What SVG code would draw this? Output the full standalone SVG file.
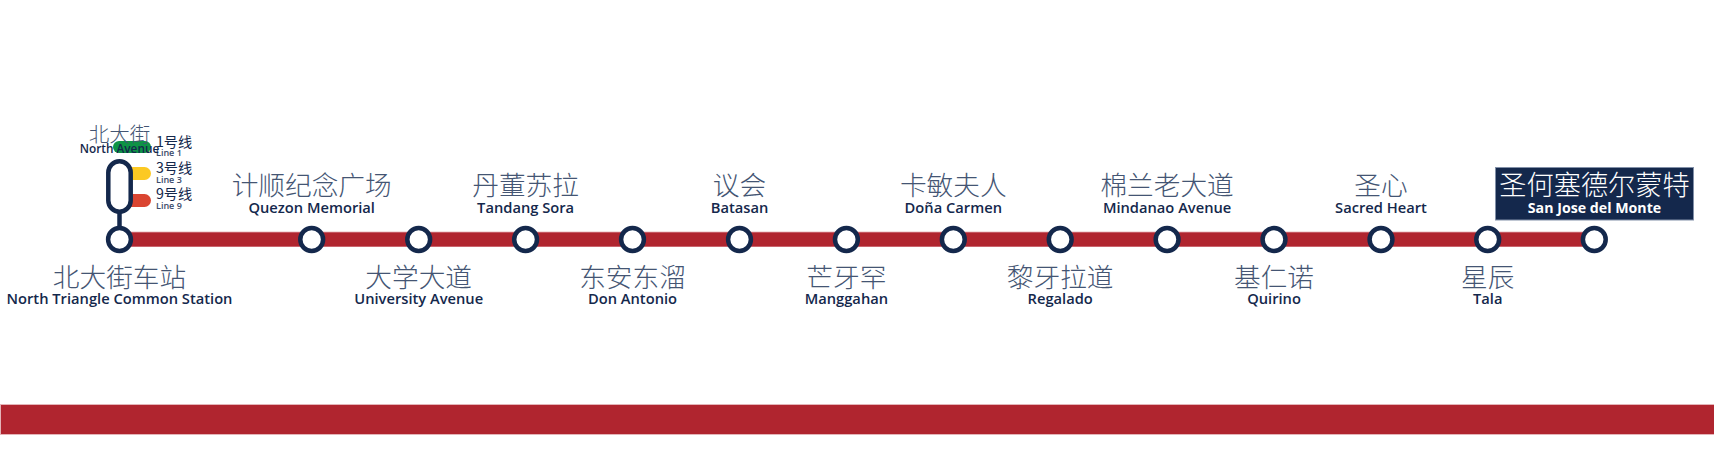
<svg xmlns="http://www.w3.org/2000/svg" width="1714" height="466" viewBox="0 0 1714 466">
<style>
text{text-anchor:middle}
.zh{font-family:"Noto Sans CJK SC","Noto Sans CJK TC",sans-serif;font-size:26.7px;font-weight:300;fill:#445573}
.en{font-family:"Open Sans","Noto Sans",sans-serif;font-size:14.7px;font-weight:600;fill:#14284c}
.st{fill:#fff;stroke:#14284c;stroke-width:4.500}
.ln{font-family:"Noto Sans CJK SC",sans-serif;font-size:14.200px;font-weight:400;fill:#14284c;text-anchor:start}
.lne{font-family:"Open Sans",sans-serif;font-size:9px;font-weight:600;fill:#3a4a6a;text-anchor:start}
.pill{stroke:none}
</style>
<rect x="0.5" y="404.5" width="1714" height="30" fill="#b0252f" stroke="#e4b4b8" stroke-width="1"/>
<g id="connectors">
<rect x="120" y="232.200" width="1474" height="14.400" fill="#b0252f" stroke="#c9616a" stroke-width="0.800"/>
<path d="M119.500 210V228" stroke="#14284c" stroke-width="4.500" fill="none"/>
<rect class="pill" x="113" y="141" width="38" height="12" rx="6" fill="#0e9345"/>
<rect class="pill" x="120" y="167" width="31" height="13" rx="6.500" fill="#fcc923"/>
<rect class="pill" x="120" y="194" width="31" height="13" rx="6.500" fill="#da4531"/>
</g>
<g id="interchange"><rect x="108.300" y="161.300" width="22.400" height="50.400" rx="11.200" fill="#fff" stroke="#14284c" stroke-width="4.500"/></g>
<g id="line1"><text class="ln" x="156" y="146.700">1号线</text><text class="lne" x="156" y="155.700">Line 1</text></g>
<g id="line3"><text class="ln" x="156" y="172.700">3号线</text><text class="lne" x="156" y="182.700">Line 3</text></g>
<g id="line9"><text class="ln" x="156" y="199.300">9号线</text><text class="lne" x="156" y="209.300">Line 9</text></g>
<g id="north-avenue"><text class="zh" x="119.500" y="141.500" style="font-size:20.500px">北大街</text><text class="en" x="119.500" y="152.700" style="font-size:11.800px">North Avenue</text></g>
<g id="s0"><circle class="st" cx="119.500" cy="239.500" r="11.400"/><text class="zh" x="119.500" y="287">北大街车站</text><text class="en" x="119.500" y="304">North Triangle Common Station</text></g>
<g id="s1"><circle class="st" cx="311.700" cy="239.500" r="11.400"/><text class="zh" x="311.700" y="195">计顺纪念广场</text><text class="en" x="311.700" y="213">Quezon Memorial</text></g>
<g id="s2"><circle class="st" cx="418.700" cy="239.500" r="11.400"/><text class="zh" x="418.700" y="287">大学大道</text><text class="en" x="418.700" y="304">University Avenue</text></g>
<g id="s3"><circle class="st" cx="525.600" cy="239.500" r="11.400"/><text class="zh" x="525.600" y="195">丹董苏拉</text><text class="en" x="525.600" y="213">Tandang Sora</text></g>
<g id="s4"><circle class="st" cx="632.500" cy="239.500" r="11.400"/><text class="zh" x="632.500" y="287">东安东溜</text><text class="en" x="632.500" y="304">Don Antonio</text></g>
<g id="s5"><circle class="st" cx="739.500" cy="239.500" r="11.400"/><text class="zh" x="739.500" y="195">议会</text><text class="en" x="739.500" y="213">Batasan</text></g>
<g id="s6"><circle class="st" cx="846.400" cy="239.500" r="11.400"/><text class="zh" x="846.400" y="287">芒牙罕</text><text class="en" x="846.400" y="304">Manggahan</text></g>
<g id="s7"><circle class="st" cx="953.300" cy="239.500" r="11.400"/><text class="zh" x="953.300" y="195">卡敏夫人</text><text class="en" x="953.300" y="213">Doña Carmen</text></g>
<g id="s8"><circle class="st" cx="1060.200" cy="239.500" r="11.400"/><text class="zh" x="1060.200" y="287">黎牙拉道</text><text class="en" x="1060.200" y="304">Regalado</text></g>
<g id="s9"><circle class="st" cx="1167.100" cy="239.500" r="11.400"/><text class="zh" x="1167.100" y="195">棉兰老大道</text><text class="en" x="1167.100" y="213">Mindanao Avenue</text></g>
<g id="s10"><circle class="st" cx="1274" cy="239.500" r="11.400"/><text class="zh" x="1274" y="287">基仁诺</text><text class="en" x="1274" y="304">Quirino</text></g>
<g id="s11"><circle class="st" cx="1381" cy="239.500" r="11.400"/><text class="zh" x="1381" y="195">圣心</text><text class="en" x="1381" y="213">Sacred Heart</text></g>
<g id="s12"><circle class="st" cx="1487.700" cy="239.500" r="11.400"/><text class="zh" x="1487.700" y="287">星辰</text><text class="en" x="1487.700" y="304">Tala</text></g>
<g id="s13"><rect x="1495.500" y="167.500" width="198" height="52.500" fill="#14284c" stroke="#8290a8" stroke-width="1"/><circle class="st" cx="1594.300" cy="239.500" r="11.400"/><text class="zh" x="1594.500" y="195" style="fill:#fff;font-size:27.200px">圣何塞德尔蒙特</text><text class="en" x="1594.500" y="213" style="fill:#fff;font-weight:700;font-size:14.200px">San Jose del Monte</text></g>
</svg>
